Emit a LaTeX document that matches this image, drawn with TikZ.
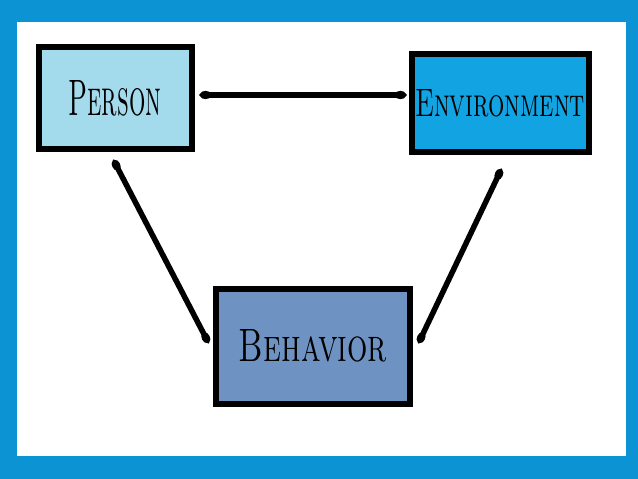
\documentclass[tikz,border=0pt]{standalone}
\usepackage{graphicx}
\usetikzlibrary{arrows.meta}
\definecolor{bgblue}{HTML}{0B93D3}
\definecolor{pfill}{HTML}{A3DAEC}
\definecolor{efill}{HTML}{12A3E2}
\definecolor{bfill}{HTML}{6E93C2}
\tikzset{
 box/.style={draw=black,line width=6pt,inner sep=0pt},
 link/.style={line width=5.5pt,{Circle[length=11pt,width=8pt]}-{Circle[length=11pt,width=8pt]},shorten <=-3pt,shorten >=-3pt}
}
\begin{document}
\begin{tikzpicture}[x=1pt,y=-1pt]
\useasboundingbox (0,0) rectangle (638,479);
\fill[bgblue] (0,0) rectangle (638,479);
\fill[white] (17,22) rectangle (626,456);
\node[box,fill=pfill,minimum width=153pt,minimum height=102pt] (p) at (115,98) {\resizebox{93pt}{35pt}{\textsc{Person}}};
\node[box,fill=efill,minimum width=177pt,minimum height=98pt] (e) at (500,103) {\resizebox{170pt}{27pt}{\textsc{Environment}}};
\node[box,fill=bfill,minimum width=194pt,minimum height=115pt] (b) at (313,346) {\resizebox{148pt}{32pt}{\textsc{Behavior}}};
\coordinate (p1) at (203,95);
\coordinate (e1) at (403,95);
\coordinate (p2) at (115,163);
\coordinate (b1) at (207,340);
\coordinate (e2) at (500,172);
\coordinate (b2) at (420,340);
\draw[link] (p1) -- (e1);
\draw[link] (p2) -- (b1);
\draw[link] (e2) -- (b2);
\end{tikzpicture}
\end{document}
